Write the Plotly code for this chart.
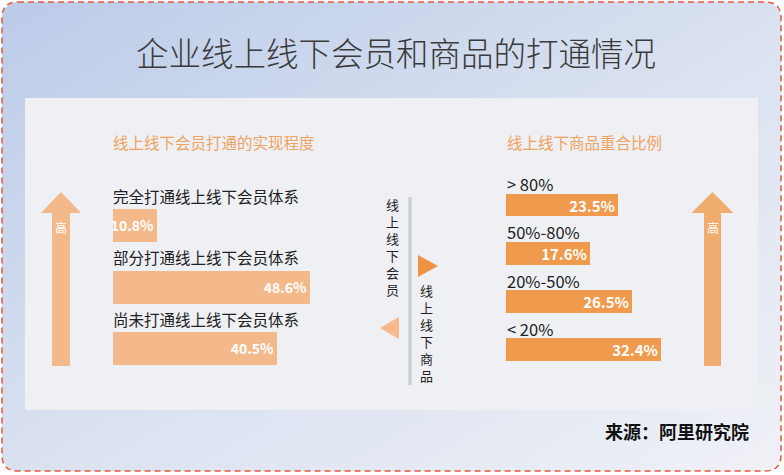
import base64
import plotly.graph_objects as go

W, H = 784, 475

# ---------------- data ----------------
title_text = "企业线上线下会员和商品的打通情况"
left_title = "线上线下会员打通的实现程度"
left_labels = ["完全打通线上线下会员体系", "部分打通线上线下会员体系", "尚未打通线上线下会员体系"]
left_values = [10.8, 48.6, 40.5]
right_title = "线上线下商品重合比例"
right_labels = ["> 80%", "50%-80%", "20%-50%", "< 20%"]
right_values = [23.5, 17.6, 26.5, 32.4]
center_member_text = "线上线下会员"
center_goods_text = "线上线下商品"
arrow_text = "高"
source_text = "来源：阿里研究院"

CJK = "Noto Sans CJK SC"


def px(x):
    return x / W


def py(y):
    return 1 - y / H


def poly_path(pts):
    return "M " + " L ".join(f"{px(x):.5f},{py(y):.5f}" for x, y in pts) + " Z"


def rr_path(x0, y0, x1, y1, r):
    P = lambda x, y: f"{px(x):.5f},{py(y):.5f}"
    return (f"M {P(x0 + r, y0)} L {P(x1 - r, y0)} Q {P(x1, y0)} {P(x1, y0 + r)} "
            f"L {P(x1, y1 - r)} Q {P(x1, y1)} {P(x1 - r, y1)} "
            f"L {P(x0 + r, y1)} Q {P(x0, y1)} {P(x0, y1 - r)} "
            f"L {P(x0, y0 + r)} Q {P(x0, y0)} {P(x0 + r, y0)} Z")


fig = go.Figure()

# left bars
fig.add_trace(go.Bar(
    x=left_values, y=list(range(len(left_values))), orientation="h",
    width=0.54, marker=dict(color="#f4b98a", line=dict(width=0)),
    texttemplate="%{x:.1f}%", textposition="inside", insidetextanchor="end",
    textangle=0, constraintext="none",
    textfont=dict(color="white", size=14, family=CJK, weight="bold"),
    xaxis="x", yaxis="y", hoverinfo="skip", showlegend=False,
))

# right bars
fig.add_trace(go.Bar(
    x=right_values, y=list(range(len(right_values))), orientation="h",
    width=0.47, marker=dict(color="#ef9a4c", line=dict(width=0)),
    texttemplate="%{x:.1f}%", textposition="inside", insidetextanchor="end",
    textangle=0, constraintext="none",
    textfont=dict(color="white", size=15, family=CJK, weight="bold"),
    xaxis="x2", yaxis="y2", hoverinfo="skip", showlegend=False,
))

L_PX_PER = 4.05
R_PX_PER = 4.77
left_step = 61.5
right_step = 48.2

axis_common = dict(visible=False, fixedrange=True, showgrid=False, zeroline=False)
fig.update_layout(
    xaxis=dict(domain=[px(113), px(360)], range=[0, (360 - 113) / L_PX_PER], anchor="y", **axis_common),
    yaxis=dict(domain=[py(225.5 + 2.5 * left_step), py(225.5 - 0.5 * left_step)],
               range=[2.5, -0.5], anchor="x", **axis_common),
    xaxis2=dict(domain=[px(506), px(680)], range=[0, (680 - 506) / R_PX_PER], anchor="y2", **axis_common),
    yaxis2=dict(domain=[py(205.5 + 3.5 * right_step), py(205.5 - 0.5 * right_step)],
                range=[3.5, -0.5], anchor="x2", **axis_common),
)

# ---------------- background ----------------
svg = ('<svg xmlns="http://www.w3.org/2000/svg" width="784" height="475" viewBox="0 0 784 475">'
       '<defs><linearGradient id="g" x1="0" y1="0" x2="1" y2="1">'
       '<stop offset="0" stop-color="#bbcbe8"/><stop offset="0.5" stop-color="#d9e1f0"/>'
       '<stop offset="1" stop-color="#eff1f6"/></linearGradient></defs>'
       '<rect x="2" y="2" width="779" height="469" rx="16" ry="16" fill="url(#g)"/></svg>')
img_src = "data:image/svg+xml;base64," + base64.b64encode(svg.encode("utf-8")).decode("ascii")

shapes = []
shapes.append(dict(type="rect", xref="paper", yref="paper", x0=px(25), x1=px(758), y0=py(410), y1=py(98),
                   fillcolor="#eef0f3", line=dict(width=0), layer="below"))
shapes.append(dict(type="path", xref="paper", yref="paper", path=rr_path(2, 2, 781, 471, 16),
                   line=dict(color="#e4573e", width=1.5, dash="6px,4px"), fillcolor="rgba(0,0,0,0)",
                   layer="above"))


def arrow_pts(cx, tip, base, bottom, head_half, shaft_half):
    return [(cx, tip), (cx + head_half, base), (cx + shaft_half, base), (cx + shaft_half, bottom),
            (cx - shaft_half, bottom), (cx - shaft_half, base), (cx - head_half, base)]


shapes.append(dict(type="path", xref="paper", yref="paper",
                   path=poly_path(arrow_pts(61, 192, 213, 366, 20, 9)),
                   fillcolor="#f4b98a", line=dict(width=0), layer="above"))
shapes.append(dict(type="path", xref="paper", yref="paper",
                   path=poly_path(arrow_pts(712.5, 192, 213, 366, 21, 8.5)),
                   fillcolor="#f1ac70", line=dict(width=0), layer="above"))
shapes.append(dict(type="line", xref="paper", yref="paper", x0=px(410), x1=px(410), y0=py(197), y1=py(385),
                   line=dict(color="#c9d0d3", width=3.5), layer="above"))
shapes.append(dict(type="path", xref="paper", yref="paper",
                   path=poly_path([(418, 255), (438, 266), (418, 277)]),
                   fillcolor="#ef9444", line=dict(width=0), layer="above"))
shapes.append(dict(type="path", xref="paper", yref="paper",
                   path=poly_path([(399, 317), (380, 328), (399, 339)]),
                   fillcolor="#f6b98b", line=dict(width=0), layer="above"))

ann = []
ann.append(dict(text=title_text, x=px(396), y=py(52), xref="paper", yref="paper", showarrow=False,
                font=dict(family=CJK, size=32.5, color="#3a3a3a", weight=300),
                xanchor="center", yanchor="middle"))
ann.append(dict(text=left_title, x=px(111), y=py(142), xref="paper", yref="paper", showarrow=False,
                font=dict(family=CJK, size=15.5, color="#eea362"), xanchor="left", yanchor="middle"))
ann.append(dict(text=right_title, x=px(505), y=py(142), xref="paper", yref="paper", showarrow=False,
                font=dict(family=CJK, size=15.5, color="#eea362"), xanchor="left", yanchor="middle"))
for i, lab in enumerate(left_labels):
    ann.append(dict(text=lab, x=0, y=i - 0.48, xref="x", yref="y", showarrow=False,
                    font=dict(family=CJK, size=15.5, color="#222222"), xanchor="left", yanchor="middle",
                    xshift=-2))
for i, lab in enumerate(right_labels):
    ann.append(dict(text=lab, x=0, y=i - 0.44, xref="x2", yref="y2", showarrow=False,
                    font=dict(family=CJK, size=16.5, color="#222222"), xanchor="left", yanchor="middle",
                    xshift=-1))
for cx in (61, 712.5):
    ann.append(dict(text=arrow_text, x=px(cx), y=py(227), xref="paper", yref="paper", showarrow=False,
                    font=dict(family=CJK, size=12, color="white"), xanchor="center", yanchor="middle"))
# vertical center texts (one stacked text each)
ann.append(dict(text="<br>".join(center_member_text), x=px(392), y=py(247.5), xref="paper", yref="paper",
                showarrow=False, font=dict(family=CJK, size=13, color="#222222"),
                xanchor="center", yanchor="middle"))
ann.append(dict(text="<br>".join(center_goods_text), x=px(426), y=py(332.5), xref="paper", yref="paper",
                showarrow=False, font=dict(family=CJK, size=13, color="#222222"),
                xanchor="center", yanchor="middle"))
ann.append(dict(text=source_text, x=px(751), y=py(431), xref="paper", yref="paper", showarrow=False,
                font=dict(family=CJK, size=18, color="#111111", weight="bold"), xanchor="right", yanchor="middle"))

fig.update_layout(
    width=W, height=H, margin=dict(l=0, r=0, t=0, b=0),
    paper_bgcolor="white", plot_bgcolor="rgba(0,0,0,0)",
    shapes=shapes, annotations=ann, bargap=0,
    images=[dict(source=img_src, xref="paper", yref="paper", x=0, y=1, sizex=1, sizey=1,
                 sizing="stretch", xanchor="left", yanchor="top", layer="below")],
    showlegend=False,
)

fig.write_html("out.html", config={"displayModeBar": False},
               post_script="document.body.style.margin='0';document.body.style.overflow='hidden';")
